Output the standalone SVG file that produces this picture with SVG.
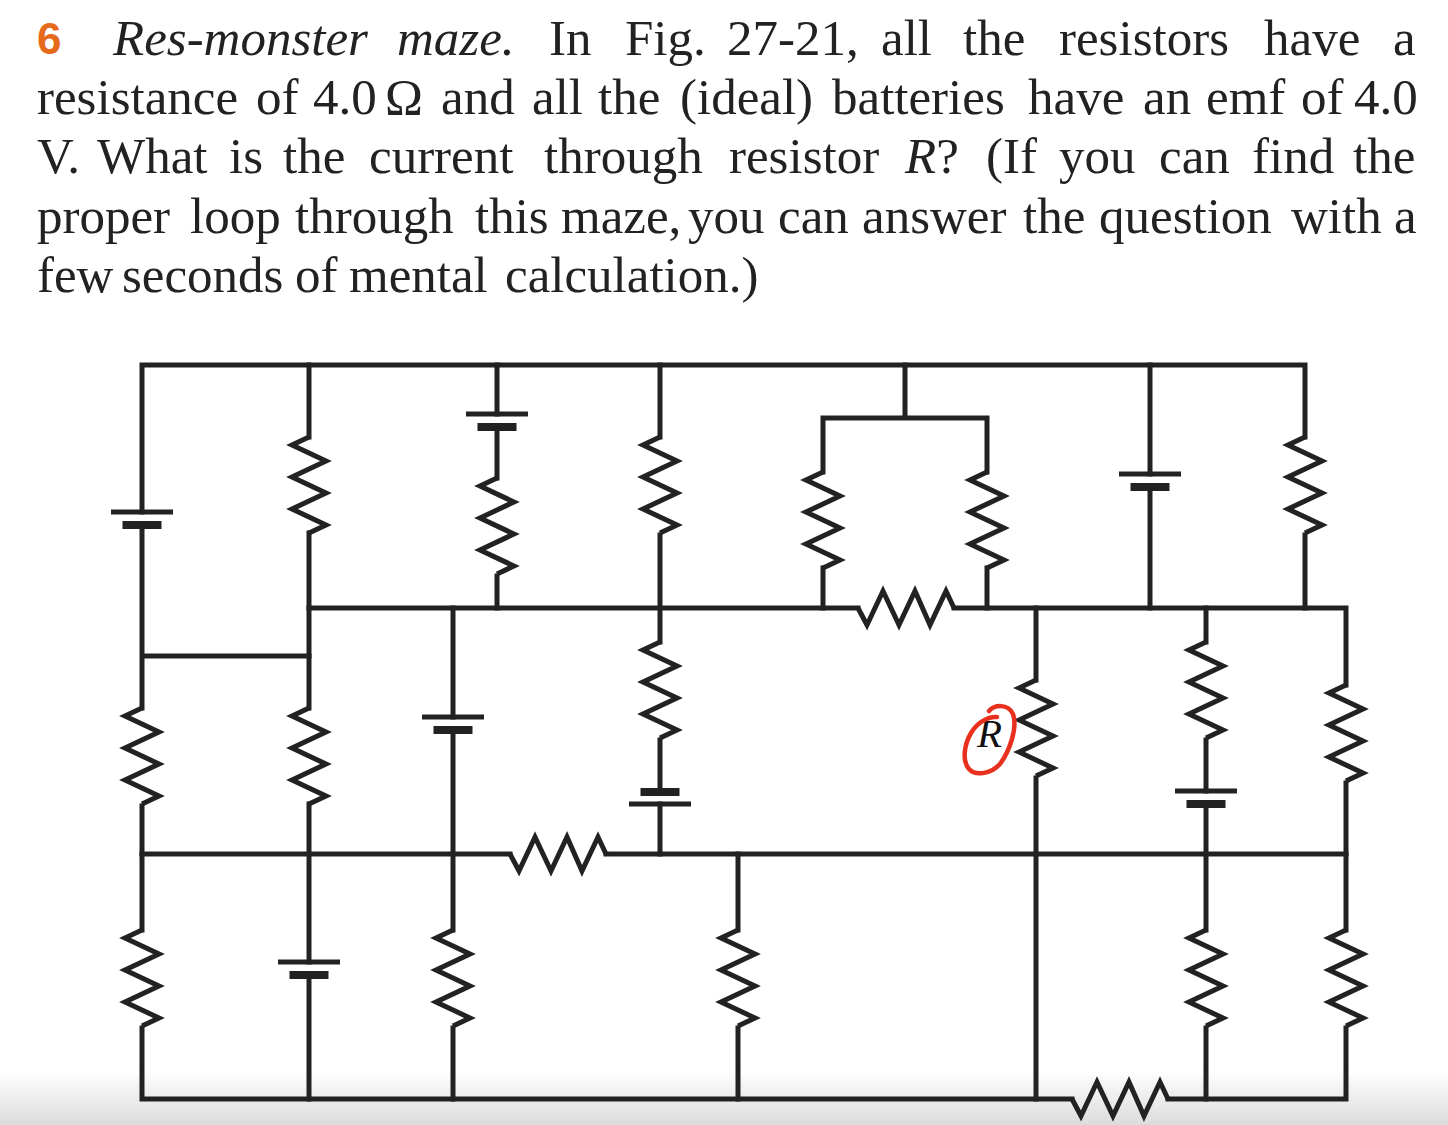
<svg xmlns="http://www.w3.org/2000/svg" xmlns:xlink="http://www.w3.org/1999/xlink" width="1448" height="1125" viewBox="0 0 1448 1125">
<style>
.t{font-family:"Liberation Serif","Times New Roman",serif;font-size:51px;fill:#222}
.i{font-style:italic}
.w{fill:none;stroke:#222;stroke-width:5;stroke-linecap:square;stroke-linejoin:miter}
.z{fill:none;stroke:#222;stroke-width:5;stroke-linejoin:miter}
.p{fill:#222}
</style>
<defs>
<linearGradient id="fade" x1="0" y1="0" x2="0" y2="1"><stop offset="0" stop-color="#fff"/><stop offset="1" stop-color="#dcdcdc"/></linearGradient>
<path id="rv" class="z" d="M0 0L-17 8L17 24L-17 40L17 56L-17 72L17 88L0 96"/>
<path id="rh" class="z" d="M0 0L9 17L25 -17L41 17L57 -17L72 17L88 -17L96 0"/>
<g id="bat"><rect class="p" x="-31" y="-2.5" width="62" height="5"/><rect class="p" x="-19.500" y="9" width="39" height="8"/></g>
<g id="batUp"><rect class="p" x="-19.500" y="-4" width="39" height="8"/><rect class="p" x="-31" y="9.500" width="62" height="5"/></g>
</defs>
<rect width="1448" height="1125" fill="#fff"/>
<rect y="1070" width="1448" height="55" fill="url(#fade)"/>
<g id="problem-text">
<text y="54" x="37" style="font-family:'Liberation Sans',Arial,sans-serif;font-weight:bold;font-size:44px;fill:#e56a1c">6</text>
<text class="t" y="55"><tspan class="i" x="113">Res-monster</tspan><tspan class="i" x="397">maze.</tspan><tspan x="549">In</tspan><tspan x="625">Fig.</tspan><tspan x="727">27-21,</tspan><tspan x="881">all</tspan><tspan x="963">the</tspan><tspan x="1059">resistors</tspan><tspan x="1264">have</tspan><tspan x="1393">a</tspan></text>
<text class="t" y="114"><tspan x="37">resistance</tspan><tspan x="256">of</tspan><tspan x="313">4.0</tspan><tspan x="385">Ω</tspan><tspan x="441">and</tspan><tspan x="532">all</tspan><tspan x="598">the</tspan><tspan x="680">(ideal)</tspan><tspan x="832">batteries</tspan><tspan x="1028">have</tspan><tspan x="1143">an</tspan><tspan x="1206">emf</tspan><tspan x="1301">of</tspan><tspan x="1354">4.0</tspan></text>
<text class="t" y="173"><tspan x="37">V.</tspan><tspan x="97">What</tspan><tspan x="229">is</tspan><tspan x="283">the</tspan><tspan x="369">current</tspan><tspan x="544">through</tspan><tspan x="729">resistor</tspan><tspan class="i" x="905">R</tspan><tspan>?</tspan><tspan x="986">(If</tspan><tspan x="1059">you</tspan><tspan x="1159">can</tspan><tspan x="1252">find</tspan><tspan x="1353">the</tspan></text>
<text class="t" y="233"><tspan x="37">proper</tspan><tspan x="190">loop</tspan><tspan x="295">through</tspan><tspan x="475">this</tspan><tspan x="561">maze,</tspan><tspan x="688">you</tspan><tspan x="778">can</tspan><tspan x="862">answer</tspan><tspan x="1023">the</tspan><tspan x="1099">question</tspan><tspan x="1291">with</tspan><tspan x="1394">a</tspan></text>
<text class="t" y="292"><tspan x="37">few</tspan><tspan x="122">seconds</tspan><tspan x="295">of</tspan><tspan x="349">mental</tspan><tspan x="505">calculation.)</tspan></text>
</g>
<g id="connectors">
<path class="w" d="M142 512V365H1305V437M142 525V708M142 656H309M142 806V930M142 1028V1099H1072M1168 1099H1346V1028"/>
<path class="w" d="M309 365V437M309 533V708M309 804V962M309 974V1099"/>
<path class="w" d="M497 365V414M497 427V478M497 576V608"/>
<path class="w" d="M660 365V437M660 535V642M660 740V792M660 804V854"/>
<path class="w" d="M905 365V418M823 472V418H987V472M823 568V608M987 568V608"/>
<path class="w" d="M1150 365V474M1150 487V608M1305 535V608"/>
<path class="w" d="M309 608H858M954 608H1346V685M1346 783V930"/>
<path class="w" d="M142 854H510M606 854H1346"/>
<path class="w" d="M453 608V717M453 731V930M453 1028V1099"/>
<path class="w" d="M738 854V930M738 1028V1099"/>
<path class="w" d="M1036 608V680M1036 778V1099"/>
<path class="w" d="M1206 608V642M1206 740V791M1206 804V930M1206 1028V1099"/>
</g>
<g id="r1"><use href="#rv" x="309" y="437"/></g>
<g id="r2"><use href="#rv" x="497" y="478"/></g>
<g id="r3"><use href="#rv" x="660" y="437"/></g>
<g id="r4"><use href="#rv" x="823" y="472"/></g>
<g id="r5"><use href="#rv" x="987" y="472"/></g>
<g id="r6"><use href="#rv" x="1305" y="437"/></g>
<g id="r7"><use href="#rh" x="858" y="608"/></g>
<g id="r8"><use href="#rv" x="142" y="708"/></g>
<g id="r9"><use href="#rv" x="309" y="708"/></g>
<g id="r10"><use href="#rv" x="660" y="642"/></g>
<g id="r-R"><use href="#rv" x="1036" y="680"/>
<text x="977" y="747" style="font-family:'Liberation Serif',serif;font-style:italic;font-size:41px;fill:#111">R</text>
<path d="M989 711C994 705 1008 703 1013 714C1018 728 1009 752 1000 764C992 773 976 777 969 769C962 761 964 745 971 733C977 723 988 716 997 717" fill="none" stroke="#e8301f" stroke-width="4.500" stroke-linecap="round"/></g>
<g id="r12"><use href="#rv" x="1206" y="642"/></g>
<g id="r13"><use href="#rv" x="1346" y="685"/></g>
<g id="r14"><use href="#rh" x="510" y="854"/></g>
<g id="r15"><use href="#rv" x="142" y="930"/></g>
<g id="r16"><use href="#rv" x="453" y="930"/></g>
<g id="r17"><use href="#rv" x="738" y="930"/></g>
<g id="r18"><use href="#rv" x="1206" y="930"/></g>
<g id="r19"><use href="#rv" x="1346" y="930"/></g>
<g id="r20"><use href="#rh" x="1072" y="1099"/></g>
<g id="b1"><use href="#bat" x="142" y="512"/></g>
<g id="b2"><use href="#bat" x="497" y="414"/></g>
<g id="b3"><use href="#bat" x="1150" y="474"/></g>
<g id="b4"><use href="#bat" x="453" y="717"/></g>
<g id="b5"><use href="#batUp" x="660" y="792"/></g>
<g id="b6"><use href="#bat" x="1206" y="791"/></g>
<g id="b7"><use href="#bat" x="309" y="962"/></g>
</svg>
